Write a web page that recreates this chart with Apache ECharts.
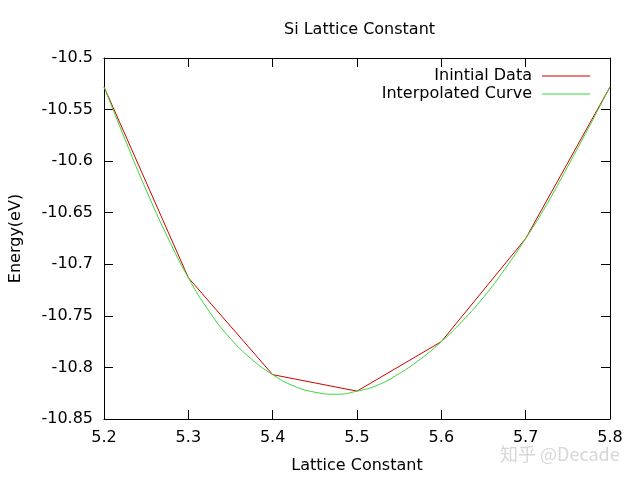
<!DOCTYPE html>
<html>
<head>
<meta charset="utf-8">
<script src="https://cdn.jsdelivr.net/npm/echarts@6/dist/echarts.min.js"></script>
<style>
  html, body { margin: 0; padding: 0; background: #fff; }
  #chart { width: 640px; height: 480px; }
</style>
</head>
<body>
<div id="chart"></div>
<script>
// lattice constants (Angstrom) and energies (eV)
var latticeX = [5.2, 5.3, 5.4, 5.5, 5.6, 5.7, 5.8];
var energyY = [-10.528, -10.713, -10.807, -10.823, -10.775, -10.675, -10.528];

// smooth curve, read every 0.025
var curveX = [5.2, 5.225, 5.25, 5.275, 5.3, 5.325, 5.35, 5.375, 5.4, 5.425, 5.45, 5.475,
              5.5, 5.525, 5.55, 5.575, 5.6, 5.625, 5.65, 5.675, 5.7, 5.725, 5.75, 5.775, 5.8];
var curveY = [-10.528, -10.579, -10.628, -10.673, -10.713, -10.746, -10.772, -10.792, -10.807,
              -10.818, -10.824, -10.826, -10.823, -10.817, -10.806, -10.792, -10.775, -10.755,
              -10.732, -10.705, -10.675, -10.642, -10.605, -10.567, -10.528];

var font = 'DejaVu Sans';
var fs = 16;

function pairs(xs, ys) {
    var out = [];
    for (var i = 0; i < xs.length; i++) {
        out.push([xs[i], ys[i]]);
    }
    return out;
}

var tick = { show: true, inside: true, length: 9, lineStyle: { color: '#000', width: 1 } };
var line = { show: true, onZero: false, lineStyle: { color: '#000', width: 1 } };

var option = {
    animation: false,
    backgroundColor: '#fff',
    title: {
        text: 'Si Lattice Constant',
        left: 279,
        top: 17,
        textStyle: { fontFamily: font, fontSize: fs, fontWeight: 'normal', color: '#000' }
    },
    legend: {
        orient: 'vertical',
        right: 45,
        top: 63,
        align: 'right',
        icon: 'rect',
        itemWidth: 48,
        itemHeight: 1,
        itemGap: 2,
        textStyle: { fontFamily: font, fontSize: fs, color: '#000', padding: [0, 5, 0, 0] },
        data: ['Inintial Data', 'Interpolated Curve']
    },
    grid: { left: 104, right: 30, top: 58, bottom: 61 },
    xAxis: [{
        type: 'value',
        min: 5.2,
        max: 5.8,
        interval: 0.1,
        name: 'Lattice Constant',
        nameLocation: 'middle',
        nameGap: 39,
        nameTextStyle: { fontFamily: font, fontSize: fs, color: '#000' },
        axisLine: line,
        axisTick: tick,
        splitLine: { show: false },
        axisLabel: {
            margin: 11,
            fontFamily: font, fontSize: fs, color: '#000',
            formatter: function (v) { return v.toFixed(1); }
        }
    }, {
        type: 'value',
        position: 'top',
        min: 5.2,
        max: 5.8,
        interval: 0.1,
        axisLine: line,
        axisTick: tick,
        splitLine: { show: false },
        axisLabel: { show: false }
    }],
    yAxis: [{
        type: 'value',
        min: -10.85,
        max: -10.5,
        interval: 0.05,
        name: 'Energy(eV)',
        nameLocation: 'middle',
        nameGap: 80,
        nameTextStyle: { fontFamily: font, fontSize: fs, color: '#000' },
        axisLine: line,
        axisTick: tick,
        splitLine: { show: false },
        axisLabel: {
            margin: 11,
            fontFamily: font, fontSize: fs, color: '#000',
            formatter: function (v) { return String(parseFloat(v.toFixed(2))); }
        }
    }, {
        type: 'value',
        position: 'right',
        min: -10.85,
        max: -10.5,
        interval: 0.05,
        axisLine: line,
        axisTick: tick,
        splitLine: { show: false },
        axisLabel: { show: false }
    }],
    series: [{
        name: 'Inintial Data',
        type: 'line',
        showSymbol: false,
        symbol: 'none',
        color: '#d00000',
        lineStyle: { color: '#d00000', width: 1 },
        data: pairs(latticeX, energyY)
    }, {
        name: 'Interpolated Curve',
        type: 'line',
        smooth: true,
        showSymbol: false,
        symbol: 'none',
        color: '#3ad83a',
        lineStyle: { color: '#3ad83a', width: 1 },
        data: pairs(curveX, curveY)
    }],
    graphic: [{
        type: 'text',
        left: 500,
        top: 445,
        style: {
            text: '知乎 @Decade',
            fontFamily: 'Noto Sans CJK SC',
            fontSize: 18,
            fill: 'rgba(205,205,205,0.8)'
        }
    }]
};

var myChart = echarts.init(document.getElementById('chart'));
myChart.setOption(option);
</script>
</body>
</html>
